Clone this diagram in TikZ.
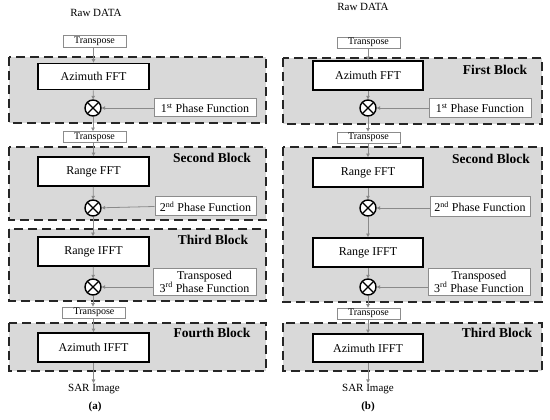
\documentclass[tikz,border=0pt]{standalone}
\usepackage{fontspec}
\setmainfont{Liberation Serif}
\usetikzlibrary{arrows.meta,shapes.misc}
\definecolor{blockfill}{HTML}{D9D9D9}
\definecolor{linegray}{HTML}{8A8A8A}
\definecolor{boxgray}{HTML}{8C8C8C}
\tikzset{
  blockrect/.style={fill=blockfill, draw=black!85, line width=1.7pt, dash pattern=on 9pt off 5pt},
  mainbox/.style={draw=black, line width=1.8pt, fill=white, font=\fontsize{12}{14}\selectfont, inner sep=0pt},
  transbox/.style={draw=boxgray, line width=0.8pt, fill=white, font=\fontsize{10}{12}\selectfont, inner sep=0pt, minimum width=63pt},
  phasebox/.style={draw=boxgray, line width=1pt, fill=white, font=\fontsize{12}{13}\selectfont, inner sep=0pt, align=center},
  mult/.style={circle, draw=black, line width=1.4pt, fill=white, minimum size=16pt, inner sep=0pt, path picture={
      \draw[black, line width=1.4pt] (path picture bounding box.north west) -- (path picture bounding box.south east)
        (path picture bounding box.north east) -- (path picture bounding box.south west);}},
  blklabel/.style={font=\bfseries\fontsize{13.5}{15}\selectfont, inner sep=0pt},
  plain/.style={font=\fontsize{11}{13}\selectfont, inner sep=1pt},
  flow/.style={draw=linegray, line width=0.8pt, -{Triangle[length=3.5pt,width=3.5pt]}}
}
\begin{document}
\begin{tikzpicture}[x=1pt,y=-1pt]
\useasboundingbox (0,0) rectangle (550,420);
% ---------- panel (a) ----------
\node[plain] (rawA) at (96,13) {Raw DATA};
\draw[blockrect] (9,57) rectangle (266,123);
\draw[blockrect] (9,147) rectangle (266,220);
\draw[blockrect] (9,229) rectangle (266,301);
\draw[blockrect] (9,323) rectangle (266,371);
\node[blklabel] (lblA2) at (212,158) {Second Block};
\node[blklabel] (lblA3) at (213,240) {Third Block};
\node[blklabel] (lblA4) at (212,333) {Fourth Block};
\node[transbox, minimum height=12pt] (tA1) at (94.5,41.5) {Transpose};
\node[mainbox, minimum width=111pt, minimum height=26pt] (fftA) at (93.5,76.5) {Azimuth FFT};
\node[mult] (mA1) at (93,108) {};
\node[phasebox, minimum width=102pt, minimum height=18pt] (pA1) at (205,108) {1\textsuperscript{st} Phase Function};
\node[transbox, minimum height=11pt] (tA2) at (94.5,137) {Transpose};
\node[mainbox, minimum width=111pt, minimum height=29pt] (rfftA) at (93.5,171.5) {Range FFT};
\node[mult] (mA2) at (93,208) {};
\node[phasebox, minimum width=101pt, minimum height=19pt] (pA2) at (205.5,206.5) {2\textsuperscript{nd} Phase Function};
\node[mainbox, minimum width=111pt, minimum height=29pt] (rifftA) at (93.5,251.5) {Range IFFT};
\node[mult] (mA3) at (93,287) {};
\node[phasebox, minimum width=103pt, minimum height=27pt] (pA3) at (204.5,281.5) {Transposed\\3\textsuperscript{rd} Phase Function};
\node[transbox, minimum height=11pt] (tA3) at (94,312.5) {Transpose};
\node[mainbox, minimum width=111pt, minimum height=29pt] (ifftA) at (93.5,347.5) {Azimuth IFFT};
\node[plain] (sarA) at (94,389) {SAR Image};
\node[plain, font=\bfseries\fontsize{11}{13}\selectfont] (capA) at (95,407) {(a)};
\draw[flow] (tA1.south -| fftA.north) -- (fftA.north);
\draw[flow] (fftA) -- (mA1);
\draw[flow] (mA1) -- (mA1 |- tA2.north);
\draw[flow] (tA2.south -| rfftA.north) -- (rfftA.north);
\draw[flow] (rfftA) -- (mA2);
\draw[flow] (mA2) -- (mA2 |- rifftA.north);
\draw[flow] (rifftA) -- (mA3);
\draw[flow] (mA3) -- (mA3 |- tA3.north);
\draw[flow] (tA3.south -| ifftA.north) -- (ifftA.north);
\draw[flow] (ifftA.south) -- (ifftA.south |- sarA.north);
\draw[flow] (pA1.west) -- (mA1);
\draw[flow] (pA2.west) -- (mA2);
\draw[flow] (pA3.west |- mA3) -- (mA3);
% ---------- panel (b) ----------
\node[plain] (rawB) at (363,7) {Raw DATA};
\draw[blockrect] (283,58) rectangle (542,124);
\draw[blockrect] (283,147) rectangle (542,302);
\draw[blockrect] (283,323) rectangle (542,371);
\node[blklabel] (lblB1) at (495,70) {First Block};
\node[blklabel] (lblB2) at (491,159) {Second Block};
\node[blklabel] (lblB3) at (497,333) {Third Block};
\node[transbox, minimum height=11pt] (tB1) at (368.5,42.5) {Transpose};
\node[mainbox, minimum width=110pt, minimum height=29pt] (fftB) at (368,75.5) {Azimuth FFT};
\node[mult] (mB1) at (368,108) {};
\node[phasebox, minimum width=102pt, minimum height=19pt] (pB1) at (480,108.5) {1\textsuperscript{st} Phase Function};
\node[transbox, minimum height=11pt] (tB2) at (368.5,137.5) {Transpose};
\node[mainbox, minimum width=110pt, minimum height=29pt] (rfftB) at (368,172.5) {Range FFT};
\node[mult] (mB2) at (368,208) {};
\node[phasebox, minimum width=100pt, minimum height=20pt] (pB2) at (480,207) {2\textsuperscript{nd} Phase Function};
\node[mainbox, minimum width=110pt, minimum height=29pt] (rifftB) at (368,252.5) {Range IFFT};
\node[mult] (mB3) at (368,287) {};
\node[phasebox, minimum width=102pt, minimum height=27pt] (pB3) at (479,281.5) {Transposed\\3\textsuperscript{rd} Phase Function};
\node[transbox, minimum height=11pt] (tB3) at (368.5,313.5) {Transpose};
\node[mainbox, minimum width=110pt, minimum height=28pt] (ifftB) at (368,348) {Azimuth IFFT};
\node[plain] (sarB) at (368,389) {SAR Image};
\node[plain, font=\bfseries\fontsize{11}{13}\selectfont] (capB) at (368,407) {(b)};
\draw[flow] (tB1.south -| fftB.north) -- (fftB.north);
\draw[flow] (fftB) -- (mB1);
\draw[flow] (mB1) -- (mB1 |- tB2.north);
\draw[flow] (tB2.south -| rfftB.north) -- (rfftB.north);
\draw[flow] (rfftB) -- (mB2);
\draw[flow] (mB2) -- (mB2 |- rifftB.north);
\draw[flow] (rifftB) -- (mB3);
\draw[flow] (mB3) -- (mB3 |- tB3.north);
\draw[flow] (tB3.south -| ifftB.north) -- (ifftB.north);
\draw[flow] (ifftB.south) -- (ifftB.south |- sarB.north);
\draw[flow] (pB1.west |- mB1) -- (mB1);
\draw[flow] (pB2.west |- mB2) -- (mB2);
\draw[flow] (pB3.west |- mB3) -- (mB3);
\end{tikzpicture}
\end{document}
